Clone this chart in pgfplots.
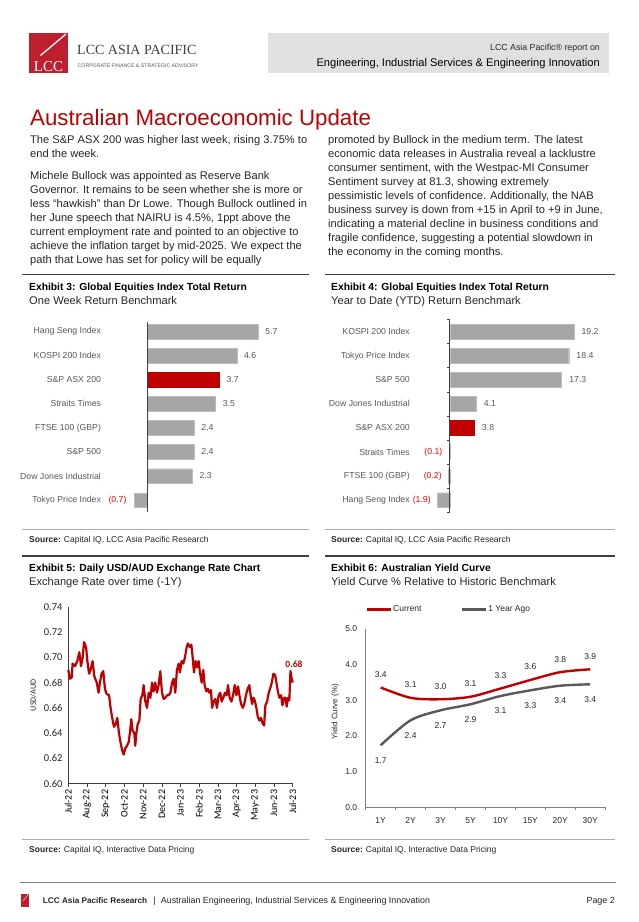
\documentclass[border=0pt]{standalone}
\usepackage{fontspec}
\setmainfont{Liberation Sans}
\newfontfamily\lccserif{Liberation Serif}
\newfontfamily\carlito{Carlito}
\usepackage{pgfplots}
\pgfplotsset{compat=1.18}
\definecolor{lccred}{RGB}{192,0,0}
\definecolor{logored}{RGB}{190,30,45}
\definecolor{bodytxt}{RGB}{38,38,38}
\definecolor{lblgray}{RGB}{89,89,89}
\definecolor{axgray}{RGB}{128,128,128}
\definecolor{bargray}{RGB}{166,166,166}
\definecolor{boxgray}{RGB}{224,224,224}
\definecolor{rulegray}{RGB}{64,64,64}
\definecolor{thingray}{RGB}{170,170,170}
\newcommand\fs[1]{\fontsize{#1}{#1}\selectfont}
\newcommand\bl[3]{\node[anchor=base west, inner sep=0pt, text=bodytxt, font=\fs{11.1}] at (#1,#2) {#3};}
\begin{document}
\begin{tikzpicture}
\path[use as bounding box, fill=white] (0pt,0pt) rectangle (638pt,-922pt);
\begin{scope}[x=1pt,y=-1pt]
% ---------- header ----------
\fill[logored] (29,33) rectangle (68,73);
\draw[white, line width=1.3pt] (40.5,55.5) -- (66,34);
\node[anchor=base, inner sep=0pt, text=white, font=\lccserif\fs{15}] at (48.5,71) {LCC};
\node[anchor=base west, inner sep=0pt, text=rulegray, font=\lccserif\fs{14}] at (77,54.6) {LCC ASIA PACIFIC};
\node[anchor=base west, inner sep=0pt, text=lblgray, font=\fs{5.2}] at (77.5,67) {CORPORATE FINANCE \& STRATEGIC ADVISORY};
\fill[boxgray] (268,33) rectangle (609,73);
\node[anchor=base east, inner sep=0pt, text=bodytxt, font=\fs{8.8}] at (600,50) {LCC Asia Pacific® report on};
\node[anchor=base east, inner sep=0pt, text=black, font=\fs{11.1}] at (600,66) {Engineering, Industrial Services \& Engineering Innovation};
\node[anchor=base west, inner sep=0pt, text=lccred, font=\fs{22.3}] at (30,125) {Australian Macroeconomic Update};
% ---------- body text ----------
\bl{30}{143.5}{The S\&P ASX 200 was higher last week, rising 3.75\% to}
\bl{30}{157.5}{end the week.}
\bl{30}{179}{Michele Bullock was appointed as Reserve Bank}
\bl{30}{193}{Governor. It remains to be seen whether she is more or}
\bl{30}{207}{less “hawkish” than Dr Lowe. Though Bullock outlined in}
\bl{30}{221}{her June speech that NAIRU is 4.5\%, 1ppt above the}
\bl{30}{235}{current employment rate and pointed to an objective to}
\bl{30}{249}{achieve the inflation target by mid-2025. We expect the}
\bl{30}{263}{path that Lowe has set for policy will be equally}
\bl{328}{143.5}{promoted by Bullock in the medium term. The latest}
\bl{328}{157.5}{economic data releases in Australia reveal a lacklustre}
\bl{328}{171.5}{consumer sentiment, with the Westpac-MI Consumer}
\bl{328}{185.5}{Sentiment survey at 81.3, showing extremely}
\bl{328}{199.5}{pessimistic levels of confidence. Additionally, the NAB}
\bl{328}{213.5}{business survey is down from +15 in April to +9 in June,}
\bl{328}{227.5}{indicating a material decline in business conditions and}
\bl{328}{241.5}{fragile confidence, suggesting a potential slowdown in}
\bl{328}{255.5}{the economy in the coming months.}
% ---------- rules ----------
\draw[rulegray, line width=1.5pt] (22,274.5) -- (309,274.5) (325,274.5) -- (615,274.5);
\draw[thingray, line width=0.8pt] (22,529) -- (309,529) (325,529) -- (615,529);
\draw[rulegray, line width=1.5pt] (22,556) -- (309,556) (325,556) -- (615,556);
\draw[thingray, line width=0.8pt] (22,839.5) -- (309,839.5) (325,839.5) -- (615,839.5);
\draw[axgray, line width=1.2pt] (20,882.7) -- (616,882.7);
% ---------- exhibit titles ----------
\node[anchor=base west, inner sep=0pt, font=\bfseries\fs{10.3}, text=black] at (29,290.6) {Exhibit 3: Global Equities Index Total Return};
\node[anchor=base west, inner sep=0pt, font=\fs{11.1}, text=bodytxt] at (29,304.5) {One Week Return Benchmark};
\node[anchor=base west, inner sep=0pt, font=\bfseries\fs{10.3}, text=black] at (331,290.6) {Exhibit 4: Global Equities Index Total Return};
\node[anchor=base west, inner sep=0pt, font=\fs{11.1}, text=bodytxt] at (331,304.5) {Year to Date (YTD) Return Benchmark};
\node[anchor=base west, inner sep=0pt, font=\bfseries\fs{10.3}, text=black] at (29,571.9) {Exhibit 5: Daily USD/AUD Exchange Rate Chart};
\node[anchor=base west, inner sep=0pt, font=\fs{11.1}, text=bodytxt] at (29,585.6) {Exchange Rate over time (-1Y)};
\node[anchor=base west, inner sep=0pt, font=\bfseries\fs{10.3}, text=black] at (331,571.9) {Exhibit 6: Australian Yield Curve};
\node[anchor=base west, inner sep=0pt, font=\fs{11.1}, text=bodytxt] at (331,585.6) {Yield Curve \% Relative to Historic Benchmark};
% ---------- sources ----------
\node[anchor=base west, inner sep=0pt, font=\fs{8.5}, text=bodytxt] at (29,542.3) {\textbf{Source:} Capital IQ, LCC Asia Pacific Research};
\node[anchor=base west, inner sep=0pt, font=\fs{8.5}, text=bodytxt] at (331,542.3) {\textbf{Source:} Capital IQ, LCC Asia Pacific Research};
\node[anchor=base west, inner sep=0pt, font=\fs{8.5}, text=bodytxt] at (29,852) {\textbf{Source:} Capital IQ, Interactive Data Pricing};
\node[anchor=base west, inner sep=0pt, font=\fs{8.5}, text=bodytxt] at (331,852) {\textbf{Source:} Capital IQ, Interactive Data Pricing};
% ---------- footer ----------
\fill[logored] (21,893.5) rectangle (29,906.5);
\draw[white, line width=0.4pt] (23,901) -- (28.5,894);
\node[anchor=base west, inner sep=0pt, font=\bfseries\fs{8.2}, text=bodytxt] at (42.7,903) {LCC Asia Pacific Research};
\node[anchor=base, inner sep=0pt, font=\fs{8.9}, text=bodytxt] at (154.6,903) {|};
\node[anchor=base west, inner sep=0pt, font=\fs{8.9}, text=bodytxt] at (160.7,903) {Australian Engineering, Industrial Services \& Engineering Innovation};
\node[anchor=base east, inner sep=0pt, font=\fs{8.9}, text=bodytxt] at (615,903) {Page 2};
\end{scope}

% ================= Exhibit 3 =================
\begin{axis}[
 at={(101.14pt,-321.6pt)}, anchor=north west,
 scale only axis, width=182.36pt, height=190.2pt,
 xmin=-2.4, xmax=7, ymin=-0.42, ymax=7.49, y dir=reverse,
 axis line style={draw=none}, xtick=\empty, ytick={0,...,7},
 yticklabels={Hang Seng Index, KOSPI 200 Index, S\&P ASX 200, Straits Times, FTSE 100 (GBP), S\&P 500, Dow Jones Industrial, Tokyo Price Index},
 major tick length=0pt,
 yticklabel style={font=\fs{8.7}, text=lblgray, inner sep=0pt, anchor=east},
 clip=false, xbar, bar width=14.5pt, bar shift=0pt,
 point meta=explicit symbolic, nodes near coords,
 every node near coord/.append style={font=\fs{8.7}, inner sep=0pt},
]
\addplot[fill=bargray, draw=bargray!75, every node near coord/.append style={anchor=west, xshift=7pt, text=lblgray}]
 coordinates {(5.7,0)[5.7] (4.6,1)[4.6] (3.5,3)[3.5] (2.4,4)[2.4] (2.4,5)[2.4] (2.3,6)[2.3]};
\addplot[fill=lccred, draw=lccred, every node near coord/.append style={anchor=west, xshift=7pt, text=lblgray}]
 coordinates {(3.7,2)[3.7]};
\addplot[fill=bargray, draw=bargray!75, every node near coord/.append style={anchor=east, xshift=-7.5pt, text=red}]
 coordinates {(-0.7,7)[(0.7)]};
\draw[rulegray, line width=0.8pt] (axis cs:0,-0.42) -- (axis cs:0,7.49);
\end{axis}

% ================= Exhibit 4 =================
\begin{axis}[
 at={(410.9pt,-319.7pt)}, anchor=north west,
 scale only axis, width=187.6pt, height=193.5pt,
 xmin=-6, xmax=23, ymin=-0.5, ymax=7.55, y dir=reverse,
 axis line style={draw=none}, xtick=\empty, ytick={0,...,7},
 yticklabels={KOSPI 200 Index, Tokyo Price Index, S\&P 500, Dow Jones Industrial, S\&P ASX 200, Straits Times, FTSE 100 (GBP), Hang Seng Index},
 major tick length=0pt,
 yticklabel style={font=\fs{8.7}, text=lblgray, inner sep=0pt, anchor=east, xshift=-1pt},
 clip=false, xbar, bar width=14.5pt, bar shift=0pt,
 point meta=explicit symbolic, nodes near coords,
 every node near coord/.append style={font=\fs{8.7}, inner sep=0pt},
]
\addplot[fill=bargray, draw=bargray!75, every node near coord/.append style={anchor=west, xshift=7.5pt, text=lblgray}]
 coordinates {(19.2,0)[19.2] (18.4,1)[18.4] (17.3,2)[17.3] (4.1,3)[4.1]};
\addplot[fill=lccred, draw=lccred, every node near coord/.append style={anchor=west, xshift=7.5pt, text=lblgray}]
 coordinates {(3.8,4)[3.8]};
\addplot[fill=bargray, draw=bargray!75, every node near coord/.append style={anchor=east, xshift=-6.5pt, text=red}]
 coordinates {(-0.1,5)[(0.1)] (-0.2,6)[(0.2)] (-1.9,7)[(1.9)]};
\draw[rulegray, line width=0.8pt] (axis cs:0,-0.5) -- (axis cs:0,7.55);
\pgfplotsinvokeforeach{-0.5,0.5,...,7.5}{\draw[rulegray, line width=0.6pt] (axis cs:0,#1) -- ++(-3pt,0pt);}
\end{axis}

% ================= Exhibit 5 =================
\begin{axis}[
 at={(68.3pt,-606.7pt)}, anchor=north west,
 scale only axis, width=224.4pt, height=177pt,
 xmin=0, xmax=12, ymin=0.60, ymax=0.74,
 axis x line*=bottom, axis y line*=left,
 axis line style={rulegray, line width=0.8pt},
 xtick={0,...,12},
 xticklabels={Jul-22,Aug-22,Sep-22,Oct-22,Nov-22,Dec-22,Jan-23,Feb-23,Mar-23,Apr-23,May-23,Jun-23,Jul-23},
 xticklabel style={rotate=90, anchor=east, font=\carlito\fs{10}, inner sep=0pt, text=black, xshift=-3pt},
 tick align=outside, major tick length=3pt,
 xtick style={rulegray, line width=0.6pt}, ytick style={draw=none},
 ytick={0.60,0.62,0.64,0.66,0.68,0.70,0.72,0.74},
 yticklabel={\pgfmathprintnumber[fixed,fixed zerofill,precision=2,assume math mode=true]{\tick}},
 yticklabel style={font=\carlito\fs{10.5}, text=bodytxt, inner sep=0pt, xshift=-2.6pt},
 ylabel={USD/AUD},
 ylabel style={at={(axis description cs:-0.156,0.5)}, anchor=center, font=\carlito\fs{8.2}, inner sep=0pt, text=bodytxt},
 clip=false,
]
\addplot[lccred, line width=2.2pt, line join=round] coordinates {
(0,0.690) (0.09,0.683) (0.18,0.684) (0.23,0.695) (0.36,0.693) (0.48,0.697) (0.59,0.704) (0.68,0.693)
(0.77,0.700) (0.84,0.712) (0.95,0.708) (1.02,0.697) (1.11,0.687) (1.19,0.690) (1.30,0.697) (1.39,0.685)
(1.52,0.680) (1.62,0.672) (1.69,0.680) (1.78,0.687) (1.87,0.689) (1.96,0.675) (2.05,0.671) (2.18,0.670)
(2.26,0.660) (2.35,0.652) (2.44,0.645) (2.53,0.647) (2.62,0.652) (2.71,0.640) (2.80,0.632) (2.89,0.626)
(2.96,0.623) (3.05,0.628) (3.14,0.630) (3.23,0.633) (3.30,0.641) (3.37,0.651) (3.44,0.642) (3.53,0.640)
(3.58,0.630) (3.64,0.640) (3.71,0.647) (3.80,0.650) (3.87,0.667) (3.96,0.670) (4.03,0.678) (4.12,0.665)
(4.21,0.660) (4.30,0.672) (4.39,0.668) (4.48,0.680) (4.56,0.673) (4.65,0.680) (4.74,0.672) (4.83,0.678)
(4.92,0.689) (5.01,0.672) (5.10,0.667) (5.19,0.668) (5.28,0.670) (5.37,0.670) (5.46,0.672) (5.55,0.680)
(5.63,0.683) (5.72,0.672) (5.81,0.690) (5.90,0.695) (5.97,0.688) (6.06,0.697) (6.15,0.695) (6.24,0.700)
(6.33,0.708) (6.40,0.711) (6.49,0.708) (6.58,0.710) (6.65,0.700) (6.72,0.688) (6.81,0.697) (6.90,0.692)
(6.97,0.697) (7.04,0.688) (7.13,0.680) (7.22,0.690) (7.29,0.678) (7.38,0.673) (7.47,0.675) (7.54,0.672)
(7.63,0.674) (7.69,0.660) (7.77,0.665) (7.86,0.667) (7.95,0.660) (8.04,0.670) (8.13,0.672) (8.20,0.665)
(8.29,0.668) (8.38,0.672) (8.47,0.670) (8.54,0.678) (8.63,0.668) (8.72,0.665) (8.81,0.670) (8.90,0.678)
(8.99,0.670) (9.08,0.677) (9.15,0.670) (9.24,0.663) (9.33,0.660) (9.41,0.663) (9.50,0.670) (9.59,0.675)
(9.68,0.678) (9.75,0.670) (9.83,0.663) (9.90,0.668) (9.97,0.666) (10.06,0.660) (10.13,0.653) (10.22,0.650)
(10.31,0.652) (10.38,0.648) (10.47,0.646) (10.54,0.662) (10.63,0.665) (10.72,0.672) (10.81,0.676) (10.88,0.680)
(10.97,0.687) (11.06,0.686) (11.13,0.680) (11.22,0.672) (11.29,0.668) (11.38,0.670) (11.45,0.662) (11.54,0.668)
(11.61,0.668) (11.68,0.661) (11.75,0.668) (11.82,0.666) (11.88,0.689) (11.95,0.683) (12.0,0.680)};
\addplot[draw=none, point meta=explicit symbolic, nodes near coords,
 every node near coord/.append style={anchor=south, font=\carlito\bfseries\fs{9.5}, text=lccred, inner sep=0pt, yshift=3.5pt, xshift=3.5pt}]
 coordinates {(11.88,0.689)[0.68]};
\end{axis}

% ================= Exhibit 6 =================
\begin{axis}[
 at={(365.7pt,-629pt)}, anchor=north west,
 scale only axis, width=239.5pt, height=178.3pt,
 xmin=-0.5, xmax=7.5, ymin=0, ymax=5,
 axis x line*=bottom, axis y line*=left,
 axis line style={axgray, line width=0.8pt},
 xtick={0,...,7}, xticklabels={1Y,2Y,3Y,5Y,10Y,15Y,20Y,30Y},
 minor xtick={-0.5,0.5,...,7.5},
 tick align=outside, major tick length=0pt, minor tick length=3pt,
 xtick style={axgray, line width=0.6pt}, ytick style={draw=none},
 ytick={0,...,5},
 yticklabel={\pgfmathprintnumber[fixed,fixed zerofill,precision=1,assume math mode=true]{\tick}},
 ticklabel style={font=\fs{8.5}, text=bodytxt, inner sep=0pt},
 yticklabel style={xshift=-8.4pt},
 xticklabel style={anchor=base, yshift=-15.7pt},
 ylabel={Yield Curve (\%)},
 ylabel style={at={(axis description cs:-0.127,0.536)}, anchor=center, font=\fs{8}, inner sep=0pt, text=bodytxt},
 clip=false,
 point meta=explicit symbolic, nodes near coords,
 every node near coord/.append style={font=\fs{8.5}, text=bodytxt, inner sep=0pt, anchor=center},
 legend columns=2,
 legend style={draw=none, fill=none, at={(axis description cs:0,1)}, anchor=south west, yshift=14pt,
   font=\fs{8.5}, text=bodytxt, inner sep=0pt, nodes={inner sep=1.5pt},
   /tikz/every even column/.append style={column sep=38pt}},
 legend image code/.code={\draw[#1, line width=2.4pt] (0pt,0pt) -- (23.4pt,0pt);},
]
\addplot[lccred, line width=2.4pt, smooth, every node near coord/.append style={yshift=13pt}]
 coordinates {(0,3.36)[3.4] (1,3.07)[3.1] (2,3.03)[3.0] (3,3.10)[3.1] (4,3.33)[3.3] (5,3.57)[3.6] (6,3.79)[3.8] (7,3.87)[3.9]};
\addlegendentry{Current}
\addplot[lblgray, line width=2.4pt, smooth, every node near coord/.append style={yshift=-15pt}]
 coordinates {(0,1.74)[1.7] (1,2.44)[2.4] (2,2.72)[2.7] (3,2.89)[2.9] (4,3.12)[3.1] (5,3.28)[3.3] (6,3.41)[3.4] (7,3.45)[3.4]};
\addlegendentry{1 Year Ago}
\end{axis}
\end{tikzpicture}
\end{document}
